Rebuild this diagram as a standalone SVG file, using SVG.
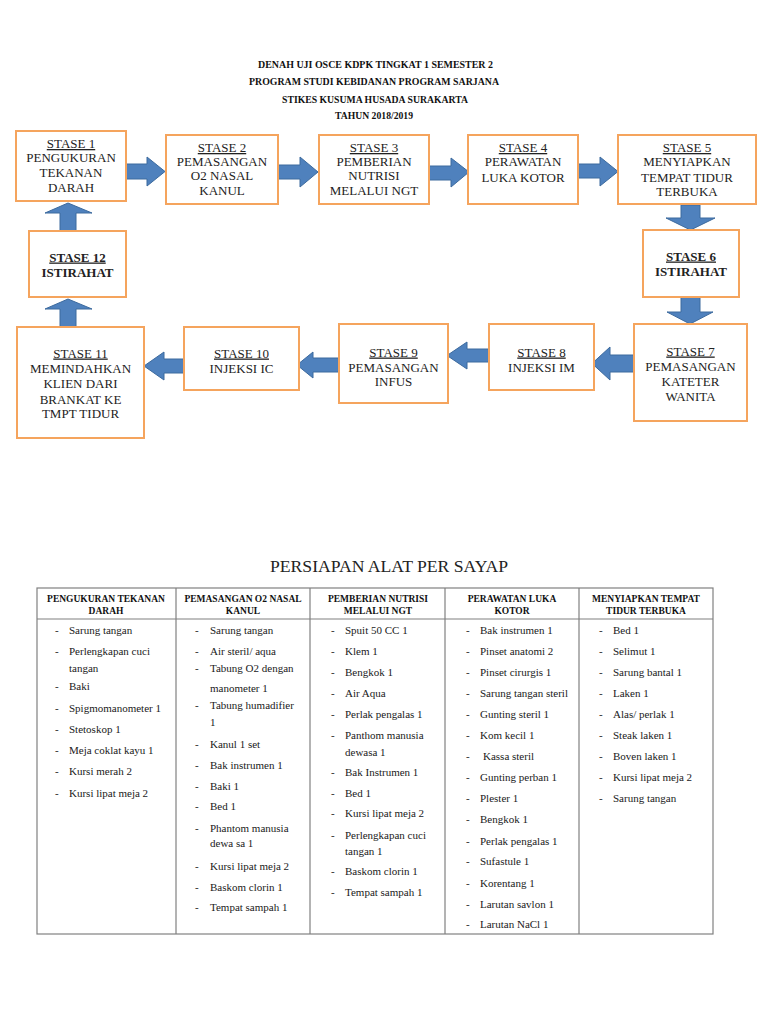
<svg xmlns="http://www.w3.org/2000/svg" width="768" height="1024" viewBox="0 0 768 1024">
<style>
.bg{fill:#ffffff}
.box{fill:#ffffff;stroke:#F5A45D;stroke-width:2}
.bt{font-family:"Liberation Serif","Times New Roman",serif;font-size:13px;fill:#222;text-anchor:middle}
.bb{font-weight:bold}
.u{text-decoration:underline}
.arr{fill:#4F81BD;stroke:#3C6A9E;stroke-width:1}
.hd{font-family:"Liberation Serif","Times New Roman",serif;font-size:9.5px;font-weight:bold;fill:#111;text-anchor:middle}
.ttl{font-family:"Liberation Serif","Times New Roman",serif;font-size:16px;fill:#222;text-anchor:middle}
.tl{stroke:#808080;stroke-width:1.2;fill:none}
.th{font-family:"Liberation Serif","Times New Roman",serif;font-size:9.5px;font-weight:bold;fill:#111;text-anchor:middle}
.ti{font-family:"Liberation Serif","Times New Roman",serif;font-size:11px;fill:#1a1a1a}
</style>
<rect class="bg" x="0" y="0" width="768" height="1024"/>

<g id="header">
<text class="hd" x="375.5" y="68" textLength="235" lengthAdjust="spacingAndGlyphs">DENAH UJI OSCE KDPK TINGKAT 1 SEMESTER 2</text>
<text class="hd" x="374" y="85" textLength="250" lengthAdjust="spacingAndGlyphs">PROGRAM STUDI KEBIDANAN PROGRAM SARJANA</text>
<text class="hd" x="375" y="103" textLength="186" lengthAdjust="spacingAndGlyphs">STIKES KUSUMA HUSADA SURAKARTA</text>
<text class="hd" x="374" y="119" textLength="78" lengthAdjust="spacingAndGlyphs">TAHUN 2018/2019</text>
</g>

<g id="connectors">
<path class="arr" d="M124,164 L147,164 L147,157 L165,171.5 L147,186 L147,179 L124,179 Z"/>
<path class="arr" d="M278,165 L300,165 L300,157 L318,172 L300,187 L300,179 L278,179 Z"/>
<path class="arr" d="M429,166 L451,166 L451,158 L469,172 L451,187 L451,180 L429,180 Z"/>
<path class="arr" d="M578,164 L600,164 L600,157 L618,171.5 L600,186 L600,178 L578,178 Z"/>
<path class="arr" d="M681,205 L700,205 L700,218 L715,218 L690.5,230 L666,218 L681,218 Z"/>
<path class="arr" d="M681,297 L700,297 L700,312 L713,312 L690,324 L667,312 L681,312 Z"/>
<path class="arr" d="M634,355 L610,355 L610,347 L592,363.5 L610,380 L610,372 L634,372 Z"/>
<path class="arr" d="M489,349 L467,349 L467,342 L447,355.5 L467,369 L467,362 L489,362 Z"/>
<path class="arr" d="M339,358 L313,358 L313,352 L297,365 L313,378 L313,372 L339,372 Z"/>
<path class="arr" d="M184,359 L164,359 L164,352 L144,366 L164,380 L164,373 L184,373 Z"/>
<path class="arr" d="M60,327 L60,309 L45,309 L68,299 L92,309 L76,309 L76,327 Z"/>
<path class="arr" d="M60,231 L60,213 L45,213 L68,203 L92,213 L76,213 L76,231 Z"/>
</g>

<g id="stase1">
<rect class="box" x="16" y="131" width="110" height="70"/>
<text class="bt"><tspan class="u" x="71" y="148">STASE 1</tspan><tspan x="71" y="162">PENGUKURAN</tspan><tspan x="71" y="177">TEKANAN</tspan><tspan x="71" y="192">DARAH</tspan></text>
</g>
<g id="stase2">
<rect class="box" x="166" y="135" width="112" height="69"/>
<text class="bt"><tspan class="u" x="222" y="152">STASE 2</tspan><tspan x="222" y="166">PEMASANGAN</tspan><tspan x="222" y="180">O2 NASAL</tspan><tspan x="222" y="195">KANUL</tspan></text>
</g>
<g id="stase3">
<rect class="box" x="319" y="135" width="110" height="69"/>
<text class="bt"><tspan class="u" x="374" y="152">STASE 3</tspan><tspan x="374" y="166">PEMBERIAN</tspan><tspan x="374" y="180">NUTRISI</tspan><tspan x="374" y="195">MELALUI NGT</tspan></text>
</g>
<g id="stase4">
<rect class="box" x="468" y="135" width="110" height="69"/>
<text class="bt"><tspan class="u" x="523" y="152">STASE 4</tspan><tspan x="523" y="166">PERAWATAN</tspan><tspan x="523" y="182">LUKA KOTOR</tspan></text>
</g>
<g id="stase5">
<rect class="box" x="618" y="135" width="138" height="69"/>
<text class="bt"><tspan class="u" x="687" y="152">STASE 5</tspan><tspan x="687" y="166">MENYIAPKAN</tspan><tspan x="687" y="182">TEMPAT TIDUR</tspan><tspan x="687" y="196">TERBUKA</tspan></text>
</g>
<g id="stase6">
<rect class="box" x="643" y="230" width="96" height="67"/>
<text class="bt bb"><tspan class="u" x="691" y="260.5">STASE 6</tspan><tspan x="691" y="275.5">ISTIRAHAT</tspan></text>
</g>
<g id="stase7">
<rect class="box" x="634" y="324" width="113" height="97"/>
<text class="bt"><tspan class="u" x="690.5" y="355.5">STASE 7</tspan><tspan x="690.5" y="370.5">PEMASANGAN</tspan><tspan x="690.5" y="385.5">KATETER</tspan><tspan x="690.5" y="400.5">WANITA</tspan></text>
</g>
<g id="stase8">
<rect class="box" x="489" y="324" width="105" height="66"/>
<text class="bt"><tspan class="u" x="541.5" y="356.5">STASE 8</tspan><tspan x="541.5" y="371.5">INJEKSI IM</tspan></text>
</g>
<g id="stase9">
<rect class="box" x="339" y="324" width="109" height="79"/>
<text class="bt"><tspan class="u" x="393.5" y="356.5">STASE 9</tspan><tspan x="393.5" y="371.5">PEMASANGAN</tspan><tspan x="393.5" y="385.5">INFUS</tspan></text>
</g>
<g id="stase10">
<rect class="box" x="184" y="327" width="115" height="63"/>
<text class="bt"><tspan class="u" x="241.5" y="357.5">STASE 10</tspan><tspan x="241.5" y="372.5">INJEKSI IC</tspan></text>
</g>
<g id="stase11">
<rect class="box" x="17" y="327" width="127" height="111"/>
<text class="bt"><tspan class="u" x="80.5" y="357.5">STASE 11</tspan><tspan x="80.5" y="372.5">MEMINDAHKAN</tspan><tspan x="80.5" y="387.5">KLIEN DARI</tspan><tspan x="80.5" y="403.5">BRANKAT KE</tspan><tspan x="80.5" y="417.5">TMPT TIDUR</tspan></text>
</g>
<g id="stase12">
<rect class="box" x="29" y="231" width="97" height="66"/>
<text class="bt bb"><tspan class="u" x="77.5" y="261.5">STASE 12</tspan><tspan x="77.5" y="276.5">ISTIRAHAT</tspan></text>
</g>

<g id="title">
<text class="ttl" x="389" y="572" textLength="238" lengthAdjust="spacingAndGlyphs">PERSIAPAN ALAT PER SAYAP</text>
</g>

<g id="table">
<rect class="tl" x="37" y="588" width="676" height="346"/>
<line class="tl" x1="37" y1="619" x2="713" y2="619"/>
<line class="tl" x1="176" y1="588" x2="176" y2="934"/>
<line class="tl" x1="310" y1="588" x2="310" y2="934"/>
<line class="tl" x1="445" y1="588" x2="445" y2="934"/>
<line class="tl" x1="579" y1="588" x2="579" y2="934"/>

<text class="th"><tspan x="106" y="602">PENGUKURAN TEKANAN</tspan><tspan x="106" y="614">DARAH</tspan></text>
<text class="th"><tspan x="243" y="602">PEMASANGAN O2 NASAL</tspan><tspan x="243" y="614">KANUL</tspan></text>
<text class="th"><tspan x="378" y="602">PEMBERIAN NUTRISI</tspan><tspan x="378" y="614">MELALUI NGT</tspan></text>
<text class="th"><tspan x="512" y="602">PERAWATAN LUKA</tspan><tspan x="512" y="614">KOTOR</tspan></text>
<text class="th"><tspan x="646" y="602">MENYIAPKAN TEMPAT</tspan><tspan x="646" y="614">TIDUR TERBUKA</tspan></text>

<text class="ti">
<tspan x="55" y="633.5">-</tspan><tspan x="69" y="633.5">Sarung tangan</tspan>
<tspan x="55" y="654.5">-</tspan><tspan x="69" y="654.5">Perlengkapan cuci</tspan>
<tspan x="69" y="671.5">tangan</tspan>
<tspan x="55" y="689.5">-</tspan><tspan x="69" y="689.5">Baki</tspan>
<tspan x="55" y="711.5">-</tspan><tspan x="69" y="711.5">Spigmomanometer 1</tspan>
<tspan x="55" y="732.5">-</tspan><tspan x="69" y="732.5">Stetoskop 1</tspan>
<tspan x="55" y="753.5">-</tspan><tspan x="69" y="753.5">Meja coklat kayu 1</tspan>
<tspan x="55" y="774.5">-</tspan><tspan x="69" y="774.5">Kursi merah 2</tspan>
<tspan x="55" y="796.5">-</tspan><tspan x="69" y="796.5">Kursi lipat meja 2</tspan>
</text>

<text class="ti">
<tspan x="195" y="633.5">-</tspan><tspan x="210" y="633.5">Sarung tangan</tspan>
<tspan x="195" y="654.5">-</tspan><tspan x="210" y="654.5">Air steril/ aqua</tspan>
<tspan x="195" y="671.5">-</tspan><tspan x="210" y="671.5">Tabung O2 dengan</tspan>
<tspan x="210" y="691.5">manometer 1</tspan>
<tspan x="195" y="708.5">-</tspan><tspan x="210" y="708.5">Tabung humadifier</tspan>
<tspan x="210" y="725.5">1</tspan>
<tspan x="195" y="747.5">-</tspan><tspan x="210" y="747.5">Kanul 1 set</tspan>
<tspan x="195" y="768.5">-</tspan><tspan x="210" y="768.5">Bak instrumen 1</tspan>
<tspan x="195" y="789.5">-</tspan><tspan x="210" y="789.5">Baki  1</tspan>
<tspan x="195" y="809.5">-</tspan><tspan x="210" y="809.5">Bed 1</tspan>
<tspan x="195" y="831.5">-</tspan><tspan x="210" y="831.5">Phantom manusia</tspan>
<tspan x="210" y="846.5">dewa sa 1</tspan>
<tspan x="195" y="869.5">-</tspan><tspan x="210" y="869.5">Kursi lipat meja 2</tspan>
<tspan x="195" y="890.5">-</tspan><tspan x="210" y="890.5">Baskom clorin 1</tspan>
<tspan x="195" y="910.5">-</tspan><tspan x="210" y="910.5">Tempat sampah 1</tspan>
</text>

<text class="ti">
<tspan x="331" y="633.5">-</tspan><tspan x="345" y="633.5">Spuit 50 CC 1</tspan>
<tspan x="331" y="654.5">-</tspan><tspan x="345" y="654.5">Klem 1</tspan>
<tspan x="331" y="675.5">-</tspan><tspan x="345" y="675.5">Bengkok 1</tspan>
<tspan x="331" y="696.5">-</tspan><tspan x="345" y="696.5">Air Aqua</tspan>
<tspan x="331" y="717.5">-</tspan><tspan x="345" y="717.5">Perlak pengalas 1</tspan>
<tspan x="331" y="738.5">-</tspan><tspan x="345" y="738.5">Panthom manusia</tspan>
<tspan x="345" y="755.5">dewasa 1</tspan>
<tspan x="331" y="775.5">-</tspan><tspan x="345" y="775.5">Bak Instrumen 1</tspan>
<tspan x="331" y="796.5">-</tspan><tspan x="345" y="796.5">Bed 1</tspan>
<tspan x="331" y="816.5">-</tspan><tspan x="345" y="816.5">Kursi lipat meja 2</tspan>
<tspan x="331" y="838.5">-</tspan><tspan x="345" y="838.5">Perlengkapan cuci</tspan>
<tspan x="345" y="854.5">tangan 1</tspan>
<tspan x="331" y="874.5">-</tspan><tspan x="345" y="874.5">Baskom clorin 1</tspan>
<tspan x="331" y="895.5">-</tspan><tspan x="345" y="895.5">Tempat sampah 1</tspan>
</text>

<text class="ti">
<tspan x="466" y="633.5">-</tspan><tspan x="480" y="633.5">Bak instrumen 1</tspan>
<tspan x="466" y="654.5">-</tspan><tspan x="480" y="654.5">Pinset anatomi 2</tspan>
<tspan x="466" y="675.5">-</tspan><tspan x="480" y="675.5">Pinset cirurgis 1</tspan>
<tspan x="466" y="696.5">-</tspan><tspan x="480" y="696.5">Sarung tangan steril</tspan>
<tspan x="466" y="717.5">-</tspan><tspan x="480" y="717.5">Gunting steril 1</tspan>
<tspan x="466" y="738.5">-</tspan><tspan x="480" y="738.5">Kom kecil 1</tspan>
<tspan x="466" y="759.5">-</tspan><tspan x="483" y="759.5">Kassa steril</tspan>
<tspan x="466" y="780.5">-</tspan><tspan x="480" y="780.5">Gunting perban 1</tspan>
<tspan x="466" y="801.5">-</tspan><tspan x="480" y="801.5">Plester 1</tspan>
<tspan x="466" y="822.5">-</tspan><tspan x="480" y="822.5">Bengkok 1</tspan>
<tspan x="466" y="844.5">-</tspan><tspan x="480" y="844.5">Perlak pengalas 1</tspan>
<tspan x="466" y="864.5">-</tspan><tspan x="480" y="864.5">Sufastule 1</tspan>
<tspan x="466" y="886.5">-</tspan><tspan x="480" y="886.5">Korentang 1</tspan>
<tspan x="466" y="907.5">-</tspan><tspan x="480" y="907.5">Larutan savlon 1</tspan>
<tspan x="466" y="928">-</tspan><tspan x="480" y="928">Larutan NaCl 1</tspan>
</text>

<text class="ti">
<tspan x="599" y="633.5">-</tspan><tspan x="613" y="633.5">Bed 1</tspan>
<tspan x="599" y="654.5">-</tspan><tspan x="613" y="654.5">Selimut 1</tspan>
<tspan x="599" y="675.5">-</tspan><tspan x="613" y="675.5">Sarung bantal 1</tspan>
<tspan x="599" y="696.5">-</tspan><tspan x="613" y="696.5">Laken 1</tspan>
<tspan x="599" y="717.5">-</tspan><tspan x="613" y="717.5">Alas/ perlak 1</tspan>
<tspan x="599" y="738.5">-</tspan><tspan x="613" y="738.5">Steak laken 1</tspan>
<tspan x="599" y="759.5">-</tspan><tspan x="613" y="759.5">Boven laken 1</tspan>
<tspan x="599" y="780.5">-</tspan><tspan x="613" y="780.5">Kursi lipat meja 2</tspan>
<tspan x="599" y="801.5">-</tspan><tspan x="613" y="801.5">Sarung tangan</tspan>
</text>
</g>
</svg>
